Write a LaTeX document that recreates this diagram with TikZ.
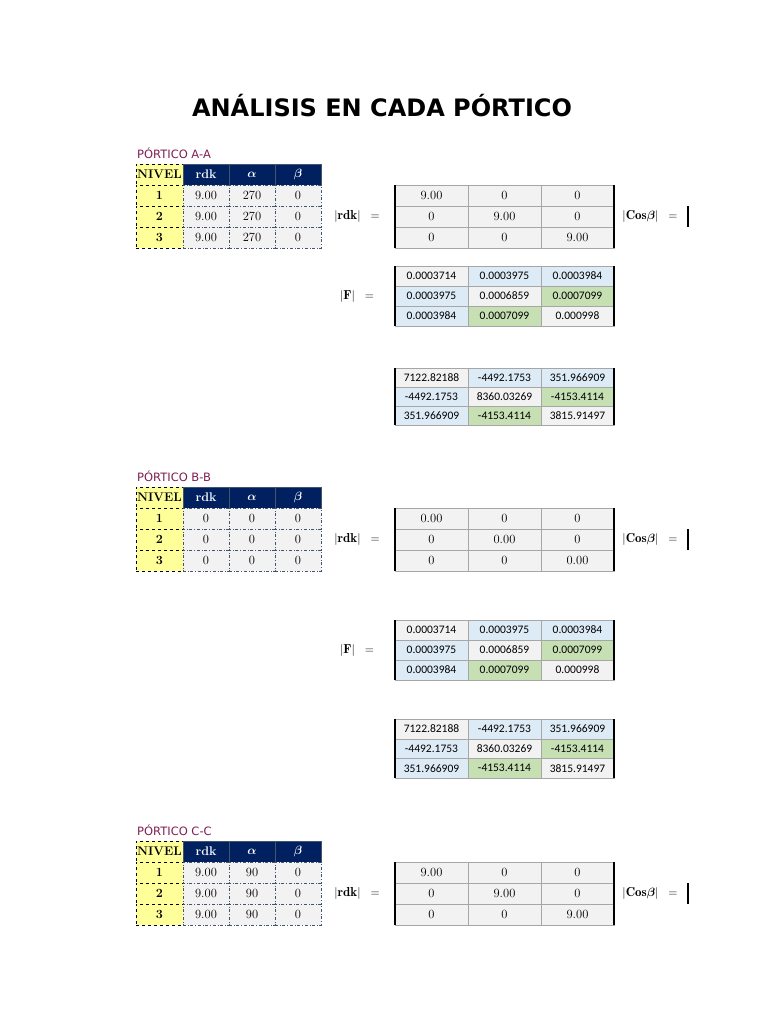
\documentclass[tikz,border=0pt]{standalone}
\usepackage{fontspec}
\usepackage{amsmath,bm}
\newfontfamily\titlef{DejaVu Sans}
\newfontfamily\calf{Carlito}
\definecolor{navy}{RGB}{0,32,96}
\definecolor{ylw}{RGB}{255,255,153}
\definecolor{lg}{RGB}{242,242,242}
\definecolor{lb}{RGB}{221,235,247}
\definecolor{lgr}{RGB}{198,224,180}
\definecolor{plum}{RGB}{128,30,80}
\definecolor{dborder}{RGB}{68,84,106}
\tikzset{
 tcell/.style={draw=dborder,dash dot,thick,minimum width=46pt,minimum height=21pt,inner sep=0pt,font=\fontsize{12.5}{13}\selectfont,fill=lg},
 hcell/.style={draw=dborder,thick,fill=navy,text=white,minimum width=46pt,minimum height=21pt,inner sep=0pt,font=\fontsize{12.5}{13}\selectfont\bfseries},
 ncell/.style={tcell,fill=ylw,draw=black,dashed,font=\fontsize{12.5}{13}\selectfont\bfseries},
 mcell/.style={draw=gray!70,fill=lg,minimum width=73pt,inner sep=0pt,font=\fontsize{12.5}{13}\selectfont},
 fcell/.style={draw=gray!70,minimum width=73pt,inner sep=0pt,font=\calf\fontsize{11.5}{12}\selectfont},
 lbl/.style={font=\fontsize{13}{14}\selectfont,anchor=center},
 sect/.style={text=plum,font=\titlef\fontsize{11.5}{12}\selectfont,anchor=west,inner sep=0pt},
 bar/.style={line width=2.5pt}
}
\newcommand\ptable[5]{% y, name, label, rdk, alpha
 \node[sect] (#2lab) at (137,#1-11) {PÓRTICO #3};
 \node[ncell,minimum width=47pt] (#2h0) at (159.5,#1+10.5) {NIVEL};
 \node[hcell] (#2h1) at (206,#1+10.5) {rdk};
 \node[hcell] (#2h2) at (252,#1+10.5) {$\bm{\alpha}$};
 \node[hcell] (#2h3) at (298,#1+10.5) {$\bm{\beta}$};
 \foreach \r in {1,2,3}{
  \node[ncell,minimum width=47pt] (#2n\r) at (159.5,#1+10.5+21*\r) {\r};
  \node[tcell] (#2a\r) at (206,#1+10.5+21*\r) {#4};
  \node[tcell] (#2b\r) at (252,#1+10.5+21*\r) {#5};
  \node[tcell] (#2c\r) at (298,#1+10.5+21*\r) {0};
 }}
\newcommand\rdkmat[3]{% y top, name, diag
 \foreach \i in {0,1,2}{\foreach \j in {0,1,2}{
  \ifnum\i=\j \def\v{#3}\else\def\v{0}\fi
  \node[mcell,minimum height=21pt] (#2r\i\j) at (431.5+73*\j,#1+10.5+21*\i) {\v};}}
 \draw[bar] (#2r00.north west) -- (#2r20.south west);
 \draw[bar] (#2r02.north east) -- (#2r22.south east);
 \node[lbl] (#2rl) at (357,#1+31.5) {$|\mathbf{rdk}|\;\;=$};
 \node[lbl] (#2cl) at (650,#1+31.5) {$|\mathbf{Cos}\bm{\beta}|\;\;=$};
 \coordinate (#2c1) at (688,#1+21); \coordinate (#2c2) at (688,#1+42);
 \draw[bar] (#2c1) -- (#2c2);}
\newcommand\colmat[5]{% y top, name, rowh, values list, label
 \foreach \v [count=\k from 0] in #4{
  \pgfmathtruncatemacro\i{\k/3}\pgfmathtruncatemacro\j{mod(\k,3)}
  \ifnum\i=\j \def\cc{lg}\else\pgfmathtruncatemacro\s{\i+\j}\ifnum\s=3 \def\cc{lgr}\else\def\cc{lb}\fi\fi
  \node[fcell,fill=\cc,minimum height=#3pt] (#2m\i\j) at (431.5+73*\j,#1+#3/2+#3*\i) {\v};}
 \draw[bar] (#2m00.north west) -- (#2m20.south west);
 \draw[bar] (#2m02.north east) -- (#2m22.south east);
 \if\relax\detokenize{#5}\relax\else\node[lbl] (#2ml) at (357,#1+1.5*#3) {#5};\fi}
\begin{document}
\begin{tikzpicture}[x=1pt,y=-1pt]
\useasboundingbox[fill=white] (0,0) rectangle (768,1024);
\node[font=\titlef\bfseries\fontsize{24}{28}\selectfont] (title) at (382,106) {ANÁLISIS EN CADA PÓRTICO};
\def\Fv{0.0003714,0.0003975,0.0003984,0.0003975,0.0006859,0.0007099,0.0003984,0.0007099,0.000998}
\def\Kv{7122.82188,-4492.1753,351.966909,-4492.1753,8360.03269,-4153.4114,351.966909,-4153.4114,3815.91497}
% A
\ptable{164}{A}{A-A}{9.00}{270}
\rdkmat{185}{A}{9.00}
\colmat{266}{AF}{20}{\Fv}{$|\mathbf{F}|\;\;=$}
\colmat{368}{AK}{19}{\Kv}{}
% B
\ptable{487}{B}{B-B}{0}{0}
\rdkmat{508}{B}{0.00}
\colmat{620}{BF}{20}{\Fv}{$|\mathbf{F}|\;\;=$}
\colmat{719}{BK}{19.7}{\Kv}{}
% C
\ptable{841}{C}{C-C}{9.00}{90}
\rdkmat{862}{C}{9.00}
\end{tikzpicture}
\end{document}
